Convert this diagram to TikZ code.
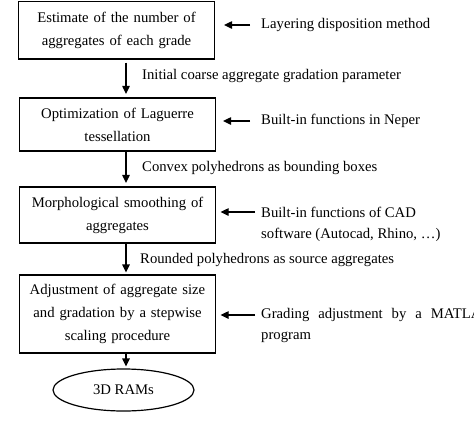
\documentclass[tikz,border=0pt]{standalone}
\usepackage{fontspec}
\setmainfont{Liberation Serif}
\usetikzlibrary{arrows.meta,shapes.geometric}
\begin{document}
\begin{tikzpicture}[x=1pt,y=-1pt,
  txt/.style={font=\fontsize{14.7pt}{23pt}\selectfont},
  stepbox/.style={txt,draw,line width=1.2pt,minimum width=196pt,text width=192pt,align=center,inner sep=0pt},
  lab/.style={txt,anchor=west,inner sep=0pt},
  arr/.style={line width=1.2pt,-{Triangle[length=8pt,width=7.5pt]}}]
\useasboundingbox (0,0) rectangle (474,429);
\node[stepbox,minimum height=57.5pt] (b1) at (116.5,30.2) {Estimate of the number of\\aggregates of each grade};
\node[stepbox,minimum height=53pt] (b2) at (117.5,124.5) {Optimization of Laguerre\\tessellation};
\node[stepbox,minimum height=56pt] (b3) at (117.5,215) {Morphological smoothing of\\aggregates};
\node[stepbox,minimum height=78pt] (b4) at (117.5,314) {Adjustment of aggregate size\\and gradation by a stepwise\\scaling procedure};
\node[txt,draw,ellipse,line width=1.2pt,minimum width=141pt,minimum height=42pt,inner sep=0pt] (ell) at (123.5,390) {3D RAMs};
% labels between boxes
\node[lab] (m1) at (142,76) {Initial coarse aggregate gradation parameter};
\node[lab] (m2) at (142,168) {Convex polyhedrons as bounding boxes};
\node[lab] (m3) at (140,260) {Rounded polyhedrons as source aggregates};
% side labels
\node[lab] (l1) at (261,25) {Layering disposition method};
\node[lab] (l2) at (261,121) {Built-in functions in Neper};
\node[lab] (l3) at (261,212) {Built-in functions of CAD};
\node[lab] (l3b) at (261,235) {software (Autocad, Rhino, \dots)};
\node[lab] (l4) at (261,315) {\makebox[230pt][s]{Grading adjustment by a MATLAB}};
\node[lab] (l4b) at (261,337) {program};
% vertical arrows
\draw[arr,shorten <=3pt,shorten >=3.5pt] ([xshift=9.5pt]b1.south) -- ([xshift=8.5pt]b2.north);
\draw[arr,shorten >=3.5pt] ([xshift=8.5pt]b2.south) -- ([xshift=8.5pt]b3.north);
\draw[arr,shorten >=2pt] ([xshift=8.5pt]b3.south) -- ([xshift=8.5pt]b4.north);
\draw[arr,shorten >=2pt] ([xshift=8.5pt]b4.south) -- ([xshift=8.5pt]b4.south |- ell.north);
% side arrows
\draw[arr,shorten <=11pt,shorten >=9pt] (l1.west) -- (l1.west -| b1.east);
\draw[arr,shorten <=11pt,shorten >=7pt] (l2.west) -- (l2.west -| b2.east);
\draw[arr,shorten <=6pt,shorten >=4.5pt] (l3.west) -- (l3.west -| b3.east);
\draw[arr,shorten <=6pt,shorten >=4.5pt] (l4.west) -- (l4.west -| b4.east);
\end{tikzpicture}
\end{document}
